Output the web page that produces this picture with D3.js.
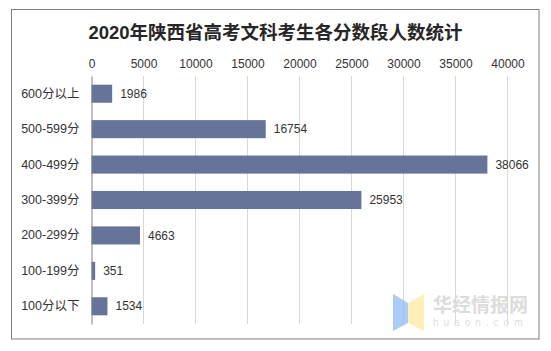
<!DOCTYPE html>
<html>
<head>
<meta charset="utf-8">
<script src="https://cdn.jsdelivr.net/npm/d3@7"></script>
<style>
  html, body { margin: 0; padding: 0; background: #fff; }
  svg { display: block; }
  text { font-family: "Liberation Sans", "Noto Sans CJK SC", sans-serif; fill: #333; }
</style>
</head>
<body>
<svg id="chart" width="551" height="351"></svg>
<script>
const categories = ["600分以上", "500-599分", "400-499分", "300-399分", "200-299分", "100-199分", "100分以下"];
const counts = [1986, 16754, 38066, 25953, 4663, 351, 1534];
const xTicks = [0, 5000, 10000, 15000, 20000, 25000, 30000, 35000, 40000];
const chartTitle = "2020年陕西省高考文科考生各分数段人数统计";
const brandName = "华经情报网";
const brandSite = "huaon.com";

const margin = {top: 76, right: 43.5, bottom: 27, left: 91.5};
const width = 551 - margin.left - margin.right, height = 351 - margin.top - margin.bottom;

const svg = d3.select("#chart");

// outer frame
svg.append("rect")
    .attr("x", 11.5).attr("y", 9.5)
    .attr("width", 527.5).attr("height", 329.5)
    .attr("fill", "none").attr("stroke", "#7f7f7f").attr("stroke-width", 1);

svg.append("text")
    .attr("x", 275.5).attr("y", 39)
    .attr("text-anchor", "middle")
    .style("font-size", "18.5px").style("font-weight", "bold").style("fill", "#262626")
    .text(chartTitle);

const g = svg.append("g").attr("transform", "translate(" + margin.left + "," + margin.top + ")");

const x = d3.scaleLinear().domain([0, 40000]).range([0, width]);
const y = d3.scaleBand().domain(categories).range([0, height]).paddingInner(0.49).paddingOuter(0.245);

// gridlines and top labels
const xAxis = g.append("g")
    .call(d3.axisTop(x).tickValues(xTicks).tickFormat(d3.format("d")).tickSize(0).tickPadding(8));
xAxis.select(".domain").remove();
xAxis.selectAll("text").style("font-size", "12px").attr("fill", "#333");

g.append("g").selectAll("line")
    .data(xTicks.slice(1))
    .enter().append("line")
    .attr("x1", d => x(d)).attr("x2", d => x(d))
    .attr("y1", 0).attr("y2", height)
    .attr("stroke", "#d8d8d8");

g.selectAll(".bar")
    .data(counts)
    .enter().append("rect")
    .attr("class", "bar")
    .attr("x", 0)
    .attr("y", (d, i) => y(categories[i]))
    .attr("width", d => x(d))
    .attr("height", y.bandwidth())
    .attr("fill", "#67749a");

const yAxis = g.append("g")
    .call(d3.axisLeft(y).tickSize(0).tickPadding(12));
yAxis.select(".domain").attr("stroke", "#808080");
yAxis.selectAll("text").style("font-size", "12.5px").attr("fill", "#333");

g.selectAll(".value")
    .data(counts)
    .enter().append("text")
    .attr("class", "value")
    .attr("x", d => x(d) + 8)
    .attr("y", (d, i) => y(categories[i]) + y.bandwidth() / 2)
    .attr("dy", "0.35em")
    .style("font-size", "12px")
    .text(d => d);

// watermark logo
const logo = svg.append("g").attr("opacity", 0.75);
logo.append("path").attr("d", "M393 294 L408 303 L408 323 L393 331 Z").attr("fill", "#8fbcf5");
logo.append("path").attr("d", "M424 294 L408 303 L408 323 L424 331 Z").attr("fill", "#fdeaa0");
svg.append("text")
    .attr("x", 433).attr("y", 312)
    .style("font-size", "19px").style("font-weight", "bold").style("fill", "#dcdcdc")
    .text(brandName);
svg.append("text")
    .attr("x", 433).attr("y", 326)
    .style("font-size", "10px").style("letter-spacing", "5px").style("fill", "#dedede")
    .text(brandSite);
</script>
</body>
</html>
